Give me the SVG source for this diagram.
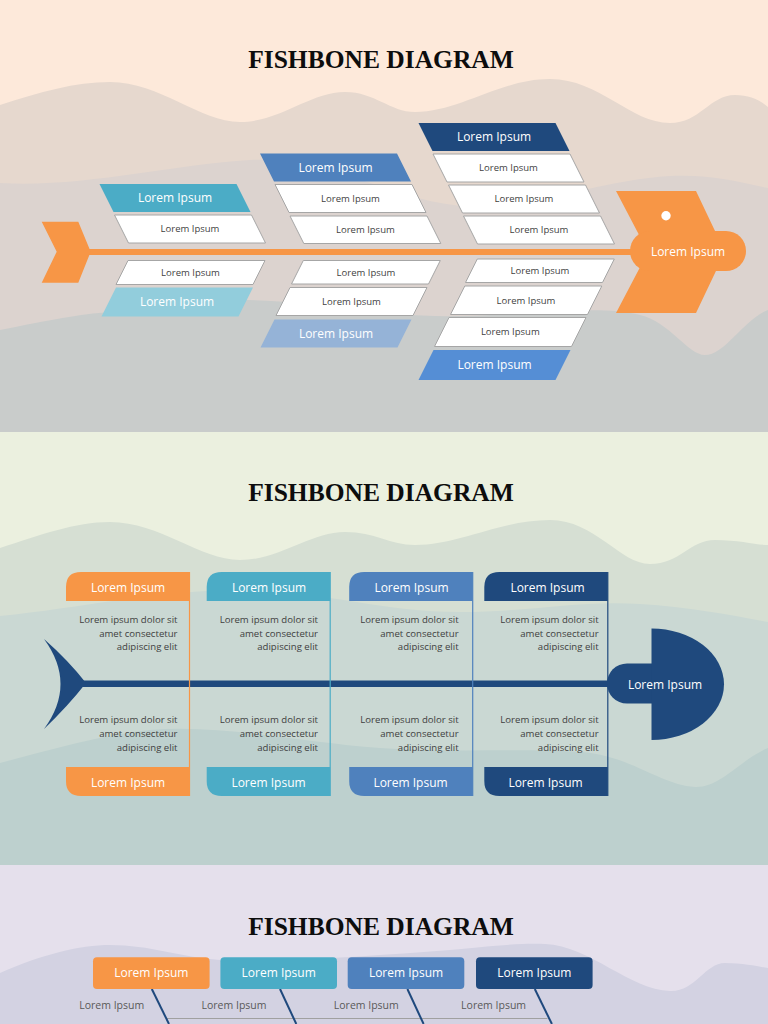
<svg xmlns="http://www.w3.org/2000/svg" width="768" height="1024" viewBox="0 0 768 1024">
<style>
.title{font-family:"Liberation Serif","Times New Roman",serif;font-weight:bold;font-size:25.5px;fill:#0d0d0d;text-anchor:middle}
.th{font-family:"Open Sans","Liberation Sans",sans-serif;font-size:12px;fill:#ffffff;text-anchor:middle}
.tw{font-family:"Open Sans","Liberation Sans",sans-serif;font-size:9.5px;fill:#3f3f3f;text-anchor:middle}
.tb{font-family:"Open Sans","Liberation Sans",sans-serif;font-size:9.6px;fill:#3f3f3f;text-anchor:end}
.tg{font-family:"Open Sans","Liberation Sans",sans-serif;font-size:10.5px;fill:#595959;text-anchor:middle}
.wb{fill:#ffffff;stroke:#a6a6a6;stroke-width:1}
.or{fill:#f79646}.te{fill:#4bacc6}.bl{fill:#4f81bd}.nv{fill:#1f497d}
</style>
<!-- backgrounds -->
<g id="bg-top">
<rect x="0" y="0" width="768" height="432" fill="#fde9da"/>
<path d="M0,105 C40,92 75,82 110,82 C160,82 200,122 240,122 C280,122 310,92 345,92 C375,92 390,112 415,112 C460,112 500,79 550,79 C600,79 630,123 670,123 C700,123 710,95 735,95 C750,95 760,100 768,107 L768,432 L0,432 Z" fill="#e6d8ce"/>
<path d="M0,183 C80,188 170,165 250,160 C330,155 400,205 470,206 C540,207 600,180 670,176 C710,174 740,182 768,188 L768,432 L0,432 Z" fill="#dcd3cf"/>
<path d="M0,330 C50,320 80,314 110,312 C160,306 200,300 240,300 C320,300 380,318 460,316 C540,314 600,305 640,315 C670,322 688,355 705,355 C725,355 745,318 768,310 L768,432 L0,432 Z" fill="#c9cccb"/>
</g>
<g id="bg-middle">
<rect x="0" y="432" width="768" height="433" fill="#ebf0df"/>
<path d="M0,548 C40,535 75,522 110,522 C160,522 200,560 240,560 C280,560 310,532 345,532 C375,532 390,545 415,545 C460,545 500,520 550,520 C595,520 620,564 650,564 C680,564 690,540 715,540 C740,540 755,545 768,545 L768,865 L0,865 Z" fill="#d6dfd3"/>
<path d="M0,616 C80,608 160,590 240,590 C320,590 380,612 460,612 C530,612 580,600 640,604 C690,607 730,615 768,622 L768,865 L0,865 Z" fill="#cad8d3"/>
<path d="M0,763 C50,750 100,735 150,730 C220,724 300,742 380,748 C450,753 520,748 580,752 C630,755 660,785 695,787 C720,788 740,760 768,748 L768,865 L0,865 Z" fill="#bdd0ce"/>
</g>
<g id="bg-bottom">
<rect x="0" y="865" width="768" height="159" fill="#e5e0ec"/>
<path d="M0,973 C40,955 80,945 110,945 C150,945 180,957 220,960 C300,962 380,955 450,950 C490,946 520,943 545,944 C590,946 630,990 670,991 C695,992 705,963 725,963 C745,963 760,967 768,968 L768,1024 L0,1024 Z" fill="#d3d2e2"/>
</g>

<!-- titles -->
<g id="titles">
<text class="title" x="381" y="68">FISHBONE DIAGRAM</text>
<text class="title" x="381" y="501">FISHBONE DIAGRAM</text>
<text class="title" x="381" y="935">FISHBONE DIAGRAM</text>
</g>

<!-- connectors -->
<g id="connectors">
<rect x="85" y="249" width="550" height="6" fill="#f79646"/>
<rect x="80" y="680.5" width="530" height="6.5" fill="#1f497d"/>
<line x1="189.5" y1="572" x2="189.5" y2="796" stroke="#f79646" stroke-width="1.2"/>
<line x1="330.2" y1="572" x2="330.2" y2="796" stroke="#4bacc6" stroke-width="1.2"/>
<line x1="472.7" y1="572" x2="472.7" y2="796" stroke="#4f81bd" stroke-width="1.2"/>
<line x1="607.8" y1="572" x2="607.8" y2="796" stroke="#1f497d" stroke-width="1.2"/>
<line x1="166.5" y1="1018.5" x2="547.5" y2="1018.5" stroke="#a0a0a0" stroke-width="1.2"/>
<line x1="151.8" y1="989" x2="169" y2="1024" stroke="#1f497d" stroke-width="2"/>
<line x1="280" y1="989" x2="296.3" y2="1024" stroke="#1f497d" stroke-width="2"/>
<line x1="407.4" y1="989" x2="423.6" y2="1024" stroke="#1f497d" stroke-width="2"/>
<line x1="534.8" y1="989" x2="551.9" y2="1024" stroke="#1f497d" stroke-width="2"/>
</g>

<!-- TOP fishbone -->
<g id="top-tail"><polygon class="or" points="41.7,221.7 78.3,221.7 90.7,251.7 78.3,282.7 41.7,282.7 56.7,251.7"/></g>
<g id="top-head">
<polygon class="or" points="616,191 696,191 725,252 696,313 616,313 648,252"/>
<rect class="or" x="630" y="231" width="116" height="40" rx="20"/>
<circle cx="666" cy="215.7" r="4.7" fill="#ffffff"/>
<text class="th" x="688" y="255.5">Lorem Ipsum</text>
</g>

<g id="top-c1-head"><polygon fill="#4bacc6" points="99.5,184 236.5,184 250.5,212 113.5,212"/><text class="th" x="175" y="202.3">Lorem Ipsum</text></g>
<g id="top-c1-u1"><polygon class="wb" points="114.5,215 251.5,215 265.5,243 128.5,243"/><text class="tw" x="190" y="232.4">Lorem Ipsum</text></g>
<g id="top-c1-l1"><polygon class="wb" points="128,260.5 265,260.5 253,284.5 116,284.5"/><text class="tw" x="190.5" y="275.9">Lorem Ipsum</text></g>
<g id="top-c1-foot"><polygon fill="#92cddc" points="116,287.5 253,287.5 238.5,316.5 101.5,316.5"/><text class="th" x="177" y="306.3">Lorem Ipsum</text></g>

<g id="top-c2-head"><polygon fill="#4f81bd" points="260,153.5 397,153.5 411,181.5 274,181.5"/><text class="th" x="335.5" y="171.8">Lorem Ipsum</text></g>
<g id="top-c2-u1"><polygon class="wb" points="275,184.5 412,184.5 426,212.5 289,212.5"/><text class="tw" x="350.5" y="201.9">Lorem Ipsum</text></g>
<g id="top-c2-u2"><polygon class="wb" points="290,216 427,216 440.8,243.5 303.8,243.5"/><text class="tw" x="365.4" y="233.1">Lorem Ipsum</text></g>
<g id="top-c2-l1"><polygon class="wb" points="303.3,260.5 440.3,260.5 428.5,284 291.5,284"/><text class="tw" x="366" y="275.6">Lorem Ipsum</text></g>
<g id="top-c2-l2"><polygon class="wb" points="290,287.5 427,287.5 413,315.5 276,315.5"/><text class="tw" x="351.5" y="304.9">Lorem Ipsum</text></g>
<g id="top-c2-foot"><polygon fill="#95b3d7" points="274.5,319.5 411.5,319.5 397.5,347.5 260.5,347.5"/><text class="th" x="336" y="337.8">Lorem Ipsum</text></g>

<g id="top-c3-head"><polygon fill="#1f497d" points="418.5,123 555.5,123 569.5,151 432.5,151"/><text class="th" x="494" y="141.3">Lorem Ipsum</text></g>
<g id="top-c3-u1"><polygon class="wb" points="433,154 570,154 584,182 447,182"/><text class="tw" x="508.5" y="171.4">Lorem Ipsum</text></g>
<g id="top-c3-u2"><polygon class="wb" points="448.5,185 585.5,185 599.5,213 462.5,213"/><text class="tw" x="524" y="202.4">Lorem Ipsum</text></g>
<g id="top-c3-u3"><polygon class="wb" points="463.5,216 600.5,216 614.5,244 477.5,244"/><text class="tw" x="539" y="233.4">Lorem Ipsum</text></g>
<g id="top-c3-l1"><polygon class="wb" points="477.3,259 614.3,259 602.5,282.5 465.5,282.5"/><text class="tw" x="540" y="274.1">Lorem Ipsum</text></g>
<g id="top-c3-l2"><polygon class="wb" points="464.8,286 601.8,286 587.5,314.5 450.5,314.5"/><text class="tw" x="526" y="303.6">Lorem Ipsum</text></g>
<g id="top-c3-l3"><polygon class="wb" points="449,317.5 586,317.5 571.5,346.5 434.5,346.5"/><text class="tw" x="510.3" y="335.4">Lorem Ipsum</text></g>
<g id="top-c3-foot"><polygon fill="#558ed5" points="433.5,350 570.5,350 555.5,380 418.5,380"/><text class="th" x="494.5" y="369.3">Lorem Ipsum</text></g>

<!-- MIDDLE fishbone -->
<g id="mid-tail"><path class="nv" d="M44,639 Q68,660 86,683 Q68,706 44,729 Q77,684 44,639 Z"/></g>
<g id="mid-head">
<rect class="nv" x="607" y="663.5" width="70" height="40" rx="20"/>
<path class="nv" d="M651.5,628.5 A72.5,55.75 0 0 1 651.5,740 Z"/>
<text class="th" x="665" y="688.5">Lorem Ipsum</text>
</g>

<g id="mid-c1">
<path class="or" d="M66,601 L66,587 Q66,572 81,572 L189.5,572 L189.5,601 Z"/>
<text class="th" x="128" y="591.5">Lorem Ipsum</text>
<text class="tb" x="177.5" y="623.4">Lorem ipsum dolor sit</text>
<text class="tb" x="177.5" y="636.7">amet consectetur</text>
<text class="tb" x="177.5" y="650">adipiscing elit</text>
<text class="tb" x="177.5" y="723.4">Lorem ipsum dolor sit</text>
<text class="tb" x="177.5" y="737.4">amet consectetur</text>
<text class="tb" x="177.5" y="750.8">adipiscing elit</text>
<path class="or" d="M66,767 L189.5,767 L189.5,796 L81,796 Q66,796 66,781 Z"/>
<text class="th" x="128" y="786.8">Lorem Ipsum</text>
</g>
<g id="mid-c2">
<path class="te" d="M206.7,601 L206.7,587 Q206.7,572 221.7,572 L330.2,572 L330.2,601 Z"/>
<text class="th" x="269" y="591.5">Lorem Ipsum</text>
<text class="tb" x="318" y="623.4">Lorem ipsum dolor sit</text>
<text class="tb" x="318" y="636.7">amet consectetur</text>
<text class="tb" x="318" y="650">adipiscing elit</text>
<text class="tb" x="318" y="723.4">Lorem ipsum dolor sit</text>
<text class="tb" x="318" y="737.4">amet consectetur</text>
<text class="tb" x="318" y="750.8">adipiscing elit</text>
<path class="te" d="M206.7,767 L330.2,767 L330.2,796 L221.7,796 Q206.7,796 206.7,781 Z"/>
<text class="th" x="268.5" y="786.8">Lorem Ipsum</text>
</g>
<g id="mid-c3">
<path class="bl" d="M349.2,601 L349.2,587 Q349.2,572 364.2,572 L472.7,572 L472.7,601 Z"/>
<text class="th" x="411.5" y="591.5">Lorem Ipsum</text>
<text class="tb" x="458.6" y="623.4">Lorem ipsum dolor sit</text>
<text class="tb" x="458.6" y="636.7">amet consectetur</text>
<text class="tb" x="458.6" y="650">adipiscing elit</text>
<text class="tb" x="458.6" y="723.4">Lorem ipsum dolor sit</text>
<text class="tb" x="458.6" y="737.4">amet consectetur</text>
<text class="tb" x="458.6" y="750.8">adipiscing elit</text>
<path class="bl" d="M349.2,767 L472.7,767 L472.7,796 L364.2,796 Q349.2,796 349.2,781 Z"/>
<text class="th" x="410.5" y="786.8">Lorem Ipsum</text>
</g>
<g id="mid-c4">
<path class="nv" d="M484.3,601 L484.3,587 Q484.3,572 499.3,572 L607.8,572 L607.8,601 Z"/>
<text class="th" x="547.5" y="591.5">Lorem Ipsum</text>
<text class="tb" x="598.6" y="623.4">Lorem ipsum dolor sit</text>
<text class="tb" x="598.6" y="636.7">amet consectetur</text>
<text class="tb" x="598.6" y="650">adipiscing elit</text>
<text class="tb" x="598.6" y="723.4">Lorem ipsum dolor sit</text>
<text class="tb" x="598.6" y="737.4">amet consectetur</text>
<text class="tb" x="598.6" y="750.8">adipiscing elit</text>
<path class="nv" d="M484.3,767 L607.8,767 L607.8,796 L499.3,796 Q484.3,796 484.3,781 Z"/>
<text class="th" x="545.5" y="786.8">Lorem Ipsum</text>
</g>

<!-- BOTTOM fishbone -->
<g id="bot-b1"><rect class="or" x="93" y="957.3" width="116.6" height="31.7" rx="4"/><text class="th" x="151.3" y="977.4">Lorem Ipsum</text></g>
<g id="bot-b2"><rect class="te" x="220.4" y="957.3" width="116.6" height="31.7" rx="4"/><text class="th" x="278.7" y="977.4">Lorem Ipsum</text></g>
<g id="bot-b3"><rect class="bl" x="347.7" y="957.3" width="116.6" height="31.7" rx="4"/><text class="th" x="406" y="977.4">Lorem Ipsum</text></g>
<g id="bot-b4"><rect class="nv" x="476" y="957.3" width="116.6" height="31.7" rx="4"/><text class="th" x="534.3" y="977.4">Lorem Ipsum</text></g>
<g id="bot-labels">
<text class="tg" x="111.7" y="1008.8">Lorem Ipsum</text>
<text class="tg" x="234" y="1008.8">Lorem Ipsum</text>
<text class="tg" x="366.3" y="1008.8">Lorem Ipsum</text>
<text class="tg" x="493.6" y="1008.8">Lorem Ipsum</text>
</g>
</svg>
